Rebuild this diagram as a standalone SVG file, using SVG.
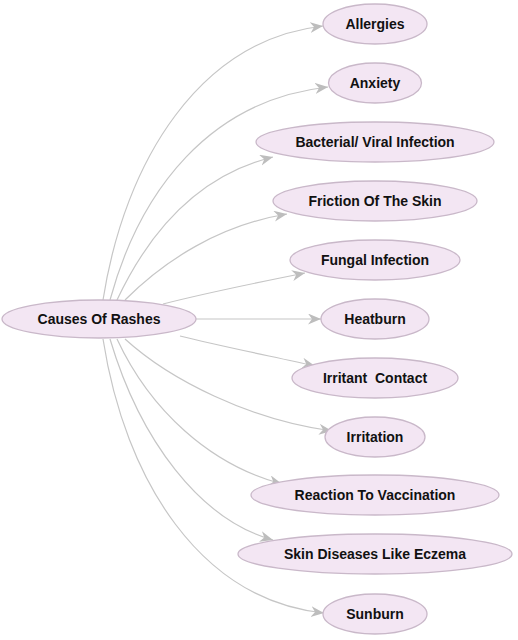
<svg xmlns="http://www.w3.org/2000/svg" width="518" height="640" viewBox="0 0 518 640">
<style>
.n ellipse{fill:#f3e6f3;stroke:#c9b8c9;stroke-width:1.3}
.n text{font-family:"Liberation Sans",Arial,sans-serif;font-size:14px;font-weight:bold;fill:#111;text-anchor:middle}
.e path{fill:none;stroke:#c6c6c6;stroke-width:1.2;marker-end:url(#ah)}
</style>
<defs>
<marker id="ah" markerUnits="userSpaceOnUse" markerWidth="16" markerHeight="14" refX="13" refY="5.5" orient="auto">
<path d="M0,0 L13,5.5 L0,11 L4,5.5 z" fill="#bdbdbd"/>
</marker>
</defs>
<rect width="518" height="640" fill="#fff"/>
<g id="connectors" class="e">
<path d="M103,300 C125,160 200,40 323,26"/>
<path d="M110,300 C140,190 210,100 328,87"/>
<path d="M117,300 C150,230 200,175 273,157"/>
<path d="M125,300 C165,260 220,225 287,214"/>
<path d="M163,304 C210,292 260,282 305,273"/>
<path d="M196,319 L321,319"/>
<path d="M180,336 C220,346 270,356 315,366"/>
<path d="M125,339 C170,380 250,420 332,431"/>
<path d="M117,339 C150,410 210,465 282,484"/>
<path d="M110,339 C140,440 200,520 273,540"/>
<path d="M103,339 C125,480 200,600 324,613"/>
</g>
<g id="causes" class="n"><ellipse cx="99" cy="319" rx="97" ry="19"/><text x="99" y="324">Causes Of Rashes</text></g>
<g id="allergies" class="n"><ellipse cx="375" cy="24" rx="52" ry="20"/><text x="375" y="29">Allergies</text></g>
<g id="anxiety" class="n"><ellipse cx="375" cy="83" rx="46.5" ry="20"/><text x="375" y="88">Anxiety</text></g>
<g id="bacterial" class="n"><ellipse cx="375" cy="142" rx="119" ry="20"/><text x="375" y="147">Bacterial/ Viral Infection</text></g>
<g id="friction" class="n"><ellipse cx="375" cy="201" rx="102" ry="20"/><text x="375" y="206">Friction Of The Skin</text></g>
<g id="fungal" class="n"><ellipse cx="375" cy="260" rx="85" ry="20"/><text x="375" y="265">Fungal Infection</text></g>
<g id="heatburn" class="n"><ellipse cx="375" cy="319" rx="54" ry="20"/><text x="375" y="324">Heatburn</text></g>
<g id="irritant" class="n"><ellipse cx="375" cy="378" rx="83" ry="20"/><text x="375" y="383" xml:space="preserve">Irritant  Contact</text></g>
<g id="irritation" class="n"><ellipse cx="375" cy="437" rx="50" ry="20"/><text x="375" y="442">Irritation</text></g>
<g id="reaction" class="n"><ellipse cx="375" cy="495" rx="124" ry="20"/><text x="375" y="500">Reaction To Vaccination</text></g>
<g id="skin" class="n"><ellipse cx="375" cy="554" rx="137" ry="20"/><text x="375" y="559">Skin Diseases Like Eczema</text></g>
<g id="sunburn" class="n"><ellipse cx="375" cy="614" rx="52" ry="20"/><text x="375" y="619">Sunburn</text></g>
</svg>
